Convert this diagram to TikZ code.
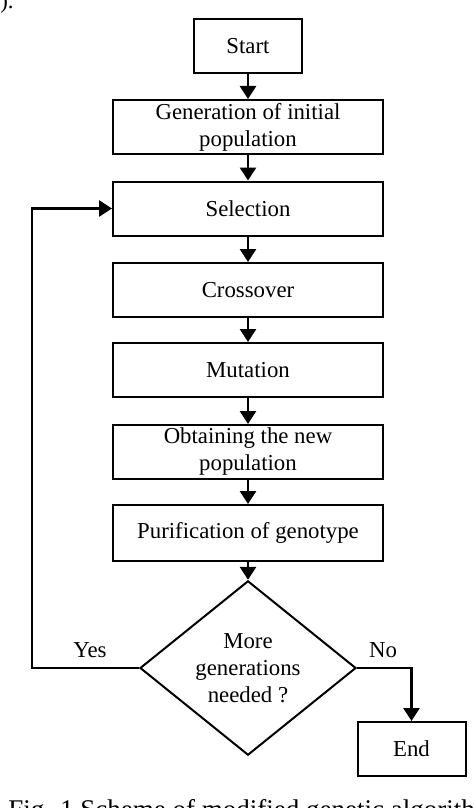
\documentclass[tikz,border=0pt]{standalone}
\usepackage{fontspec}
\setmainfont{Liberation Serif}
\usetikzlibrary{arrows.meta,positioning,shapes.geometric}
\newcommand{\flowfont}{\fontsize{11.4}{13.5}\selectfont}

\begin{document}
\begin{tikzpicture}[x=0.5pt,y=-0.5pt,
		procbox/.style={draw,line width=1pt,minimum width=135pt,minimum height=27pt,inner sep=0pt,align=center,font=\flowfont},
		termbox/.style={procbox,minimum width=54pt},
		decbox/.style={draw,diamond,line width=1pt,minimum width=108pt,minimum height=81.5pt,inner sep=0pt,align=center,font=\flowfont},
		flowarrow/.style={line width=1.4pt,-{Triangle[length=6.5pt,width=8pt]}},
		plaintext/.style={inner sep=0pt,font=\flowfont}]
		\useasboundingbox (0,0) rectangle (474,808);
		\node[termbox] (start) at (248,46) {Start};
		\node[procbox] (initpop) at (248,127) {Generation of initial\\population};
		\node[procbox] (select) at (248,208.5) {Selection};
		\node[procbox] (cross) at (248,290) {Crossover};
		\node[procbox] (mutate) at (248,370) {Mutation};
		\node[procbox] (newpop) at (248,452) {Obtaining the new\\population};
		\node[procbox,minimum height=28pt] (purify) at (248,533) {Purification of genotype};
		\node[decbox] (moregen) at (248,668) {More\\generations\\needed ?};
		\node[termbox] (finish) at (411.5,749) {End};
		\coordinate (yesturn) at (32,668);
		\draw[flowarrow] (start) -- (initpop);
		\draw[flowarrow] (initpop) -- (select);
		\draw[flowarrow] (select) -- (cross);
		\draw[flowarrow] (cross) -- (mutate);
		\draw[flowarrow] (mutate) -- (newpop);
		\draw[flowarrow] (newpop) -- (purify);
		\draw[flowarrow] (purify) -- (moregen);
		\draw[flowarrow] (moregen.west) -- (yesturn) |- (select.west);
		\draw[flowarrow] (moregen.east) -| (finish.north);
		\node[plaintext,anchor=base] (yeslbl) at (90,657) {Yes};
		\node[plaintext,anchor=base] (nolbl) at (383,657) {No};
		\node[plaintext,anchor=base east] (prevline) at (14,9) {).};
		\node[plaintext,anchor=base west,font=\fontsize{13.5}{16}\selectfont] (caption) at (8,818) {Fig. 1 Scheme of modified genetic algorithm};
\end{tikzpicture}
\end{document}
